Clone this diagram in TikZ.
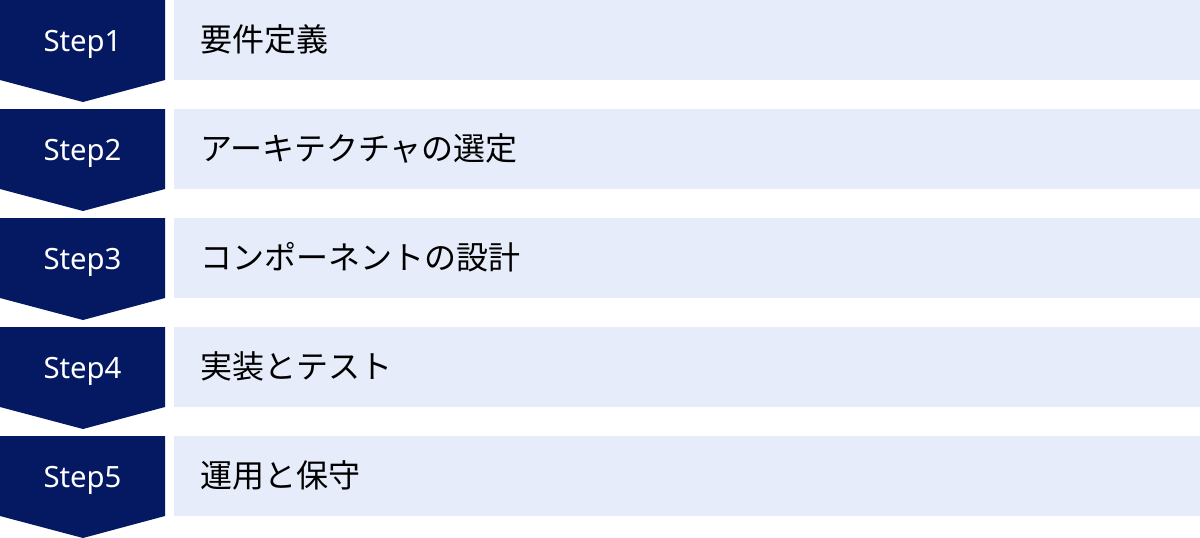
\documentclass[tikz,border=0pt]{standalone}
\usepackage{fontspec}
\setmainfont{Noto Sans}
\newfontfamily\jpfont{Noto Sans CJK JP}
\definecolor{navy}{HTML}{051862}
\definecolor{pale}{HTML}{E6ECF9}
\tikzset{
  chev/.style={fill=navy, draw=none},
  panel/.style={fill=pale, draw=none},
  steplabel/.style={text=white, font=\fontsize{29.3}{30}\selectfont, anchor=base, inner sep=0pt},
  tasklabel/.style={text=black, font=\jpfont\fontsize{32}{32}\selectfont, anchor=base west, inner sep=0pt}
}
\begin{document}
\begin{tikzpicture}[x=1pt,y=-1pt]
\useasboundingbox (0,0) rectangle (1200,538);
\foreach \i/\t in {0/要件定義,1/アーキテクチャの選定,2/コンポーネントの設計,3/実装とテスト,4/運用と保守}{
  \pgfmathsetmacro{\yy}{\i*109}
  \pgfmathtruncatemacro{\n}{\i+1}
  \fill[chev] (0,\yy) -- (165,\yy) -- (165,\yy+80) -- (83,\yy+102) -- (0,\yy+80) -- cycle;
  \fill[panel] (174,\yy) rectangle (1200,\yy+80);
  \node[steplabel] (s\n) at (82.5,\yy+51.7) {Step\n};
  \node[tasklabel] (t\n) at (200,\yy+51.5) {\t};
}
\end{tikzpicture}
\end{document}
